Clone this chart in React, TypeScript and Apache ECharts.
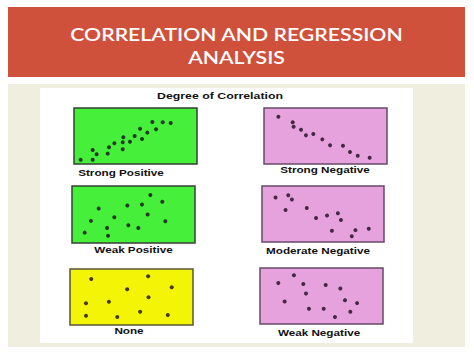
import React, { useEffect, useRef } from "react";
import * as echarts from "echarts";

const headerLines = ["CORRELATION AND REGRESSION", "ANALYSIS"];
const figureTitle = "Degree of Correlation";
const panelLabels = ["Strong Positive", "Strong Negative", "Weak Positive", "Moderate Negative", "None", "Weak Negative"];

// points as [x, y] on a 0..100 scale inside each panel
const strongPositive = [
  [5.4, 7.7], [15.2, 7.7], [15.2, 25], [18.4, 17.3], [27.4, 18.5], [28.5, 29.8], [32.8, 36.9],
  [39.6, 26.2], [39.6, 38.7], [40.1, 47.6], [45.5, 39.9], [49.3, 50], [53.7, 63.1], [55.3, 44.6],
  [59.6, 56], [63.7, 75], [66.7, 61.9], [72.1, 74.4], [78.6, 73.2],
];
const strongNegative = [
  [11.7, 84.5], [23.3, 74.4], [24.1, 66.7], [30.1, 61.3], [34.1, 51.2], [40.1, 53.6],
  [47.4, 44], [53.7, 33.3], [64.2, 32.7], [69.9, 21.4], [76.2, 14.9], [85.9, 11.3],
];
const weakPositive = [
  [10.3, 18.2], [15.4, 38.8], [21.7, 60.6], [28.5, 26.5], [29.3, 12.9], [34.4, 45.3], [45, 65.9],
  [45.8, 31.2], [53.9, 26.5], [56.9, 67.6], [61.5, 50], [63.7, 84.1], [73.4, 72.4], [75.9, 38.2],
];
const moderateNegative = [
  [11.1, 79.4], [21.5, 83.6], [24.5, 75.8], [19.3, 57], [36.7, 60.6], [44.3, 43], [53.3, 47.3],
  [62.2, 51.5], [64.7, 39.4], [57.3, 20], [76.6, 21.2], [73.6, 10.3], [87.5, 23.6],
];
const noCorrelation = [
  [17.3, 82.2], [13, 39], [13, 16.6], [31.6, 41.4], [38.4, 14.2], [46.5, 63.9],
  [57, 23.7], [63.5, 87], [63.8, 49.7], [82.7, 67.5], [79.5, 17.8],
];
const weakNegative = [
  [14.9, 73.4], [27.6, 87], [35.2, 71.6], [37.4, 54.4], [20, 40.2], [53.4, 69.8], [65.3, 63.3],
  [69.1, 42.6], [78.9, 37.3], [39.8, 27.2], [51.8, 27.2], [73.4, 21.9], [60.9, 12.4],
];

const panelData = [strongPositive, strongNegative, weakPositive, moderateNegative, noCorrelation, weakNegative];

const GREEN = "#46EF3A";
const PINK = "#E6A2DC";
const YELLOW = "#F4F506";

const panels = [
  { left: 74, top: 108, width: 123, height: 56, bg: GREEN, border: "#354035", lx: 121, ly: 173 },
  { left: 264, top: 108, width: 123, height: 56, bg: PINK, border: "#664a68", lx: 325, ly: 170 },
  { left: 72, top: 186, width: 123, height: 57, bg: GREEN, border: "#354035", lx: 133.5, ly: 250 },
  { left: 262, top: 186, width: 122, height: 56, bg: PINK, border: "#664a68", lx: 318, ly: 251 },
  { left: 70, top: 269, width: 123, height: 56, bg: YELLOW, border: "#55553a", lx: 129, ly: 331 },
  { left: 260, top: 268, width: 123, height: 56, bg: PINK, border: "#664a68", lx: 319, ly: 333 },
];

export default function App() {
  const ref = useRef<HTMLDivElement>(null);
  useEffect(() => {
    if (!ref.current) return;
    const chart = echarts.init(ref.current, null, { renderer: "svg" });
    const labelFont = "Liberation Sans, Arial, sans-serif";
    const graphic: any[] = [
      { type: "rect", z: -10, shape: { x: 8, y: 7, width: 457, height: 70 }, style: { fill: "#CF513C" } },
      { type: "rect", z: -10, shape: { x: 8, y: 84, width: 457, height: 263 }, style: { fill: "#EFEEDF" } },
      { type: "rect", z: -9, shape: { x: 40, y: 88, width: 373, height: 255 }, style: { fill: "#FFFFFF" } },
      ...headerLines.map((t, i) => ({
        type: "text",
        z: 50,
        x: 236.5,
        y: 34.5 + i * 23,
        scaleX: 1.25,
        style: {
          text: t,
          fill: "#FFFFFF",
          font: "600 17px Lato, 'Open Sans', sans-serif",
          textAlign: "center",
          textVerticalAlign: "middle",
        },
      })),
      {
        type: "text",
        z: 50,
        x: 220,
        y: 96,
        scaleX: 1.45,
        style: {
          text: figureTitle,
          fill: "#111111",
          font: `bold 8.5px ${labelFont}`,
          textAlign: "center",
          textVerticalAlign: "middle",
        },
      },
      ...panels.map((p, i) => ({
        type: "text",
        z: 50,
        x: p.lx,
        y: p.ly,
        scaleX: 1.3,
        style: {
          text: panelLabels[i],
          fill: "#111111",
          font: `bold 9px ${labelFont}`,
          textAlign: "center",
          textVerticalAlign: "middle",
        },
      })),
    ];
    chart.setOption({
      animation: false,
      backgroundColor: "#FFFFFF",
      grid: panels.map((p) => ({
        left: p.left,
        top: p.top,
        width: p.width,
        height: p.height,
        show: true,
        backgroundColor: p.bg,
        borderColor: p.border,
        borderWidth: 1.5,
        containLabel: false,
      })),
      xAxis: panels.map((_, i) => ({
        type: "value",
        gridIndex: i,
        min: 0,
        max: 100,
        show: false,
      })),
      yAxis: panels.map((_, i) => ({
        type: "value",
        gridIndex: i,
        min: 0,
        max: 100,
        show: false,
      })),
      series: panelData.map((d, i) => ({
        type: "scatter",
        xAxisIndex: i,
        yAxisIndex: i,
        data: d,
        symbol: "circle",
        symbolSize: 4,
        itemStyle: { color: "#1c0a1e" },
        silent: true,
      })),
      graphic,
    });
    return () => chart.dispose();
  }, []);
  return (
    <div
      ref={ref}
      style={{ position: "fixed", left: 0, top: 0, width: 474, height: 355 }}
    />
  );
}
